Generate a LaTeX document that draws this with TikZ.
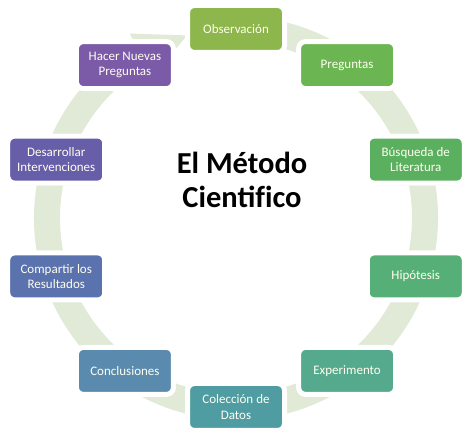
\documentclass[tikz,border=0pt]{standalone}
\usepackage{fontspec}
\setmainfont{Carlito}
\usetikzlibrary{shadows}
\definecolor{ringc}{HTML}{E0EAD6}
\definecolor{c1}{HTML}{8DB64C}
\definecolor{c2}{HTML}{6BB552}
\definecolor{c3}{HTML}{5BB060}
\definecolor{c4}{HTML}{56AF76}
\definecolor{c5}{HTML}{55AA8D}
\definecolor{c6}{HTML}{4F9DA2}
\definecolor{c7}{HTML}{5A8BAF}
\definecolor{c8}{HTML}{5A72AD}
\definecolor{c9}{HTML}{665EA8}
\definecolor{c10}{HTML}{7B5AA8}
\begin{document}
\begin{tikzpicture}[x=1pt,y=1pt,
  box/.style={draw=white, line width=5pt, rounded corners=7pt,
    minimum width=97pt, minimum height=47pt, inner sep=0pt,
    align=center, text=white!94!yellow, font=\fontsize{13}{15.5}\selectfont,
    drop shadow={shadow xshift=1pt, shadow yshift=-2pt, opacity=.3, fill=black!70}},
  title/.style={align=center, font=\fontsize{30.5}{34}\selectfont\bfseries}]
\useasboundingbox (0,0) rectangle (474,-443);
\begin{scope}[shift={(236,-218)}]
\fill[ringc] (80:202) arc[start angle=80, end angle=-240, radius=202]
  -- (120:213) -- (105:189) -- (120:165) -- (120:176)
  arc[start angle=-240, end angle=80, radius=176] -- cycle;
\node[box, fill=c1]  (n1)  at (90:189)  {Observación};
\node[box, fill=c2]  (n2)  at (54:189)  {Preguntas};
\node[box, fill=c3]  (n3)  at (18:189)  {Búsqueda de\\Literatura};
\node[box, fill=c4]  (n4)  at (-18:189) {Hipótesis};
\node[box, fill=c5]  (n5)  at (-54:189) {Experimento};
\node[box, fill=c6]  (n6)  at (-90:189) {Colección de\\Datos};
\node[box, fill=c7]  (n7)  at (-126:189) {Conclusiones};
\node[box, fill=c8]  (n8)  at (-162:189) {Compartir los\\Resultados};
\node[box, fill=c9]  (n9)  at (162:189) {Desarrollar\\Intervenciones};
\node[box, fill=c10] (n10) at (126:189) {Hacer Nuevas\\Preguntas};
\node[title] (t) at (6,38) {El Método\\Cientif\kern0pt ico};
\end{scope}
\end{tikzpicture}
\end{document}
